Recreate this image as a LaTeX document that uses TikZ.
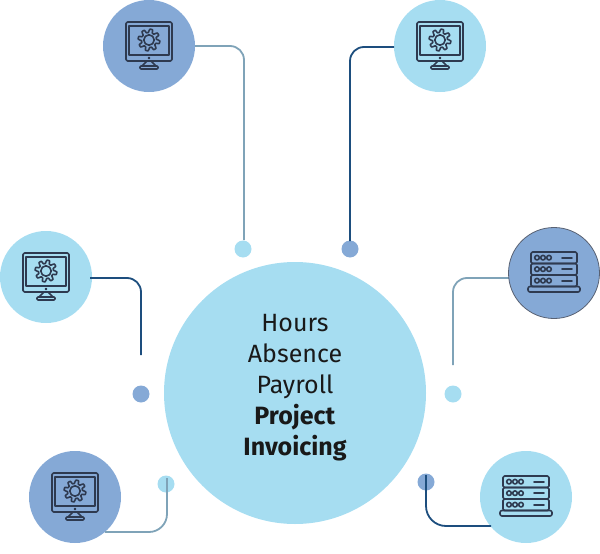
\documentclass[tikz,border=0pt]{standalone}
\usepackage{fontspec}
\setmainfont{Fira Sans}
\usetikzlibrary{backgrounds}
\definecolor{lightb}{HTML}{A6DDF1}
\definecolor{darkb}{HTML}{85A9D6}
\definecolor{navy}{HTML}{1D4E7E}
\definecolor{steel}{HTML}{7FA3B8}
\definecolor{ink}{HTML}{2E3A50}
\tikzset{
  x=1pt,y=-1pt,
  disc/.style={circle,minimum size=92pt,inner sep=0pt,fill=#1},
  dot/.style={circle,minimum size=17pt,inner sep=0pt,fill=#1},
  link/.style={line width=1.8pt,rounded corners=14pt,draw=#1},
  icon/.style={draw=ink,line width=1.6pt,line join=round,line cap=round},
  pics/monitor/.style={code={
    \draw[icon,rounded corners=1.5pt] (-23,-24) rectangle (23,15);
    \draw[icon] (-20,-20) rectangle (20,9);
    \draw[icon] (-2,15) -- (-7,20) (2,15) -- (7,20);
    \draw[icon,rounded corners=1pt] (-9,20) rectangle (9,23);
    \draw[icon,fill=ink] (0,12) circle (0.5);
    \draw[icon,smooth cycle] plot[domain=0:355,samples=72]
      ({(9.2+1.7*max(-1,min(1,2.5*sin(8*\x))))*cos(\x)},{-6+(9.2+1.7*max(-1,min(1,2.5*sin(8*\x))))*sin(\x)});
    \draw[icon] (0,-6) circle (5.2);
  }},
  pics/server/.style={code={
    \foreach \t in {-21,-9.5,2}{
      \draw[icon,rounded corners=1.5pt] (-23,\t) rectangle (23,\t+11.5);
      \foreach \c in {-17,-11,-5}{\draw[icon] (\c,\t+5.7) circle (2.3);}
      \draw[icon] (8,\t+5.7) -- (18,\t+5.7);
    }
    \draw[icon,rounded corners=2pt] (-26,13.5) rectangle (26,19);
  }}
}
\begin{document}
\begin{tikzpicture}
\useasboundingbox (0,0) rectangle (600,554);
\node[disc=darkb] (A) at (149,46) {};
\node[disc=lightb] (B) at (440,46) {};
\node[disc=lightb] (C) at (46,277) {};
\node[disc=darkb,draw=ink!80,line width=0.8pt,minimum size=91pt] (D) at (554,273) {};
\node[disc=darkb] (E) at (75,497) {};
\node[disc=lightb] (F) at (526,497) {};
\node[dot=lightb] (dA) at (243,249) {};
\node[dot=darkb] (dB) at (350,249) {};
\node[dot=darkb] (dC) at (141,394) {};
\node[dot=lightb] (dD) at (453,394) {};
\node[dot=lightb] (dE) at (166,484) {};
\node[dot=darkb] (dF) at (426,482) {};
\node[circle,minimum size=262pt,inner sep=0pt,fill=lightb] (hub) at (295,393) {};
\node[align=center,font=\fontsize{25}{31}\selectfont,text=black!90] (hubtext) at (295,388)
  {Hours\\Absence\\Payroll\\\textbf{Project}\\\textbf{Invoicing}};
\coordinate (eA) at (244,240);
\coordinate (eB) at (350,241);
\coordinate (eC) at (141,355);
\coordinate (eD) at (453,365);
\coordinate (eE) at (167,478);
\coordinate (eF) at (426,475);
\coordinate (sB) at (394,47);
\coordinate (sC) at (90,278);
\coordinate (sD) at (510,278);
\coordinate (sE) at (105,532);
\coordinate (sF) at (491,526);
\begin{pgfonlayer}{background}
\draw[link=steel] (A.east) -| (eA);
\draw[link=steel] (sD) -| (eD);
\end{pgfonlayer}
\draw[link=navy] (sB) -| (eB);
\draw[link=navy] (sC) -| (eC);
\draw[link=steel,rounded corners=18pt] (sE) -| (eE);
\draw[link=navy,rounded corners=20pt] (sF) -| (eF);
\pic at (A) {monitor};
\pic at (B) {monitor};
\pic at (C) {monitor};
\pic at (E) {monitor};
\pic at (D) {server};
\pic at (F) {server};
\end{tikzpicture}
\end{document}
